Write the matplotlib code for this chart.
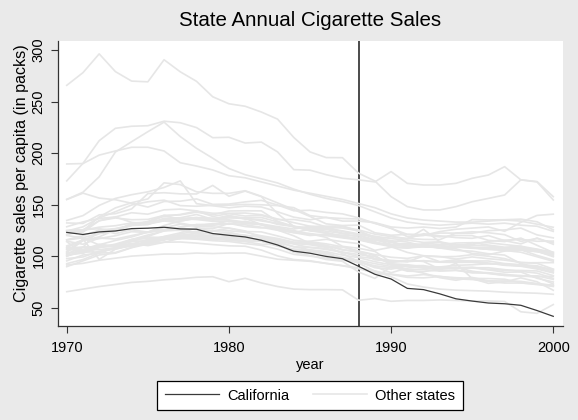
import matplotlib
matplotlib.use("Agg")
import matplotlib.pyplot as plt
from matplotlib.lines import Line2D

plt.rcParams['font.family'] = ['Liberation Sans', 'DejaVu Sans']

years = list(range(1970, 2001))
xticks = [1970, 1980, 1990, 2000]
yticks = [50, 100, 150, 200, 250, 300]
treat_year = 1988

california = [123.0, 121.0, 123.5, 124.4, 126.7, 127.1, 128.0, 126.4, 126.1, 121.9,
              120.2, 118.6, 115.4, 110.8, 104.8, 102.8, 99.7, 97.5, 90.1, 82.4,
              77.8, 68.7, 67.5, 63.4, 58.6, 56.4, 54.5, 53.8, 52.3, 47.2, 41.6]

alabama = [89.8, 95.4, 101.1, 102.9, 108.2, 111.7, 116.2, 117.1, 123.0, 121.4, 123.2, 119.6, 119.1, 116.3, 113.0, 114.5, 116.3, 114.0, 112.1, 105.6, 108.6, 107.9, 109.1, 108.5, 107.1, 102.6, 101.4, 104.9, 106.2, 100.7, 96.2]
arkansas = [100.3, 104.1, 103.9, 108.0, 109.7, 114.8, 119.1, 122.6, 127.3, 126.5, 131.8, 128.7, 127.4, 128.0, 123.1, 125.8, 126.0, 122.3, 121.5, 118.3, 113.1, 116.8, 126.0, 113.8, 108.8, 113.0, 110.7, 108.7, 109.5, 104.8, 99.4]
colorado = [124.8, 125.5, 134.3, 137.9, 132.8, 131.0, 134.2, 132.0, 129.2, 131.5, 131.0, 133.8, 130.5, 125.3, 119.7, 112.4, 109.9, 102.4, 94.6, 88.8, 87.4, 90.2, 88.3, 88.6, 89.1, 85.4, 83.1, 81.3, 81.2, 79.6, 73.0]
connecticut = [120.0, 117.6, 110.8, 109.3, 112.4, 110.2, 113.4, 117.3, 117.5, 117.4, 118.0, 116.4, 114.7, 114.1, 112.5, 111.0, 108.5, 109.0, 104.8, 100.6, 91.5, 86.7, 83.5, 79.1, 76.6, 79.3, 76.0, 75.9, 75.5, 73.4, 71.4]
delaware = [155.0, 161.1, 156.3, 154.7, 151.3, 147.6, 153.0, 153.3, 155.5, 150.2, 150.5, 152.6, 154.1, 149.6, 144.0, 144.5, 142.4, 141.0, 137.1, 131.7, 127.2, 118.8, 120.0, 123.8, 126.1, 127.2, 128.3, 124.1, 132.8, 139.5, 140.7]
georgia = [109.9, 115.7, 117.0, 119.8, 123.7, 122.9, 125.9, 127.9, 130.6, 131.0, 134.0, 131.7, 131.2, 128.6, 126.3, 128.8, 129.0, 129.3, 124.1, 117.1, 113.8, 109.6, 109.0, 108.4, 108.5, 108.4, 108.1, 107.8, 108.1, 106.1, 101.5]
idaho = [102.4, 108.5, 126.1, 121.8, 125.6, 123.3, 125.1, 125.0, 122.8, 117.5, 115.2, 114.1, 111.5, 111.3, 103.6, 100.7, 96.7, 95.0, 84.5, 78.4, 90.1, 85.4, 85.1, 86.7, 93.0, 78.2, 73.6, 75.0, 78.9, 75.1, 66.9]
illinois = [124.8, 125.6, 126.6, 124.4, 131.9, 131.8, 134.4, 134.0, 136.7, 135.3, 135.2, 133.0, 130.7, 127.9, 124.0, 121.6, 118.2, 109.5, 107.6, 104.6, 94.1, 96.1, 94.8, 87.4, 89.2, 88.6, 86.7, 84.4, 84.6, 78.5, 74.9]
indiana = [134.6, 139.3, 149.2, 156.0, 159.6, 162.4, 166.6, 173.0, 150.9, 148.9, 146.9, 148.5, 147.7, 143.0, 137.8, 135.3, 137.6, 134.0, 134.0, 132.5, 128.3, 127.2, 128.2, 126.8, 128.2, 135.4, 135.1, 135.3, 135.9, 133.3, 125.5]
iowa = [108.5, 108.4, 109.4, 110.6, 116.1, 120.5, 124.4, 125.5, 127.1, 124.2, 124.6, 123.2, 119.7, 117.2, 113.6, 113.1, 110.4, 105.9, 104.7, 96.4, 95.2, 94.5, 100.1, 94.6, 96.4, 94.9, 93.3, 91.1, 90.2, 87.5, 83.7]
kansas = [114.0, 102.8, 111.0, 115.2, 118.6, 123.4, 127.7, 130.9, 129.0, 128.3, 127.3, 124.4, 117.8, 113.5, 108.9, 108.6, 107.4, 104.0, 101.5, 99.6, 92.6, 91.7, 89.5, 85.9, 86.4, 83.7, 83.6, 81.4, 80.4, 80.3, 80.4]
kentucky = [173.0, 190.0, 212.0, 224.0, 226.0, 226.5, 230.9, 229.4, 224.7, 214.9, 215.3, 209.7, 210.6, 201.1, 183.9, 183.4, 179.0, 175.5, 174.0, 172.0, 182.0, 170.6, 169.0, 169.0, 170.6, 175.5, 178.7, 186.8, 174.0, 172.3, 157.7]
louisiana = [115.9, 119.8, 125.3, 126.7, 129.9, 133.6, 139.6, 140.0, 142.7, 140.1, 143.8, 144.0, 143.9, 133.7, 128.9, 125.0, 122.4, 119.2, 117.0, 115.8, 113.5, 110.6, 111.9, 113.1, 110.9, 111.2, 114.5, 115.5, 116.2, 114.4, 114.6]
maine = [128.5, 133.2, 136.5, 138.0, 142.1, 140.7, 144.9, 145.6, 143.9, 138.5, 141.2, 138.9, 139.5, 135.4, 135.5, 133.2, 128.3, 127.2, 124.5, 118.4, 114.9, 113.7, 109.7, 107.9, 105.6, 104.8, 102.3, 101.0, 92.7, 88.5, 84.5]
minnesota = [104.3, 116.4, 96.8, 106.8, 110.6, 111.5, 116.7, 117.2, 118.9, 118.3, 117.7, 117.4, 116.1, 112.5, 105.6, 105.3, 101.1, 98.1, 94.7, 89.8, 83.9, 88.4, 89.7, 89.4, 87.9, 88.7, 88.7, 86.9, 85.2, 83.5, 78.4]
mississippi = [92.7, 96.7, 103.0, 103.5, 108.4, 113.5, 115.4, 121.7, 124.1, 124.5, 126.9, 123.9, 123.5, 119.6, 115.4, 113.9, 111.9, 109.0, 104.8, 101.5, 98.9, 97.8, 100.2, 99.4, 99.6, 101.4, 99.9, 97.6, 93.5, 93.6, 93.7]
missouri = [120.6, 125.2, 128.1, 129.5, 132.2, 133.0, 135.0, 136.4, 135.5, 133.8, 133.9, 131.8, 130.5, 126.1, 122.9, 121.9, 119.9, 117.7, 115.7, 112.2, 109.3, 107.8, 110.7, 110.3, 109.2, 110.3, 109.8, 107.6, 107.0, 106.4, 102.2]
montana = [102.4, 105.6, 106.3, 108.1, 110.8, 112.2, 113.5, 113.7, 112.6, 111.2, 110.0, 109.6, 105.9, 100.2, 96.7, 95.5, 92.9, 90.6, 87.8, 83.7, 82.2, 79.4, 78.9, 80.2, 79.1, 78.4, 78.2, 77.6, 74.1, 72.4, 70.6]
nebraska = [95.4, 101.1, 102.9, 108.2, 111.7, 116.2, 117.1, 118.8, 119.8, 120.1, 119.6, 118.3, 115.9, 113.9, 109.3, 106.1, 104.4, 101.0, 98.5, 94.6, 91.6, 90.6, 90.8, 87.5, 88.4, 89.3, 87.1, 86.3, 86.1, 85.6, 81.1]
nevada = [155.0, 162.0, 177.0, 201.0, 211.0, 220.7, 230.0, 216.0, 204.6, 195.0, 185.0, 179.0, 175.0, 171.0, 165.0, 160.0, 156.0, 153.0, 149.0, 143.0, 137.0, 133.0, 131.0, 130.0, 131.0, 132.0, 131.0, 132.0, 130.0, 129.0, 124.0]
new_hampshire = [265.7, 278.0, 296.2, 279.0, 269.8, 269.1, 290.5, 278.8, 269.6, 254.6, 247.8, 245.4, 239.8, 232.9, 215.1, 201.1, 195.6, 195.5, 180.4, 172.9, 157.7, 148.0, 144.8, 144.8, 148.0, 152.8, 156.0, 159.3, 174.0, 172.0, 154.5]
new_mexico = [91.4, 93.0, 96.0, 98.0, 100.0, 101.0, 102.0, 102.0, 103.0, 102.5, 103.0, 103.0, 100.0, 97.0, 96.0, 95.0, 93.0, 90.8, 88.6, 85.7, 80.0, 73.0, 70.0, 68.0, 67.0, 66.5, 66.0, 65.0, 64.5, 64.0, 63.0]
north_carolina = [189.4, 189.8, 198.0, 202.0, 205.6, 205.6, 202.0, 190.6, 187.4, 183.6, 178.0, 176.0, 172.0, 168.0, 164.0, 161.0, 158.0, 155.0, 151.0, 147.0, 141.0, 137.0, 135.0, 134.0, 133.0, 133.0, 134.0, 135.0, 134.0, 131.0, 128.0]
north_dakota = [101.1, 102.9, 108.2, 111.7, 116.2, 117.1, 118.4, 117.0, 116.4, 115.0, 114.2, 112.2, 110.4, 106.8, 101.7, 100.0, 98.2, 96.0, 94.6, 90.6, 88.8, 87.0, 87.0, 85.5, 86.1, 84.6, 83.9, 82.4, 80.7, 80.9, 77.4]
ohio = [115.6, 117.8, 122.1, 126.5, 129.9, 132.7, 135.7, 136.4, 137.4, 135.0, 137.3, 137.1, 134.1, 131.9, 128.8, 127.5, 127.0, 124.1, 120.3, 116.0, 111.4, 111.8, 110.3, 111.1, 112.7, 113.0, 113.0, 111.2, 109.6, 106.8, 103.8]
oklahoma = [108.4, 115.4, 121.7, 124.1, 130.5, 132.9, 138.6, 140.4, 143.6, 141.6, 141.6, 141.8, 140.2, 136.0, 132.5, 129.0, 127.0, 124.5, 121.6, 119.3, 117.0, 115.5, 113.3, 113.9, 110.9, 108.4, 106.7, 106.4, 106.0, 104.4, 100.4]
pennsylvania = [107.3, 106.3, 109.0, 110.7, 114.2, 114.6, 118.8, 120.1, 122.3, 117.4, 118.9, 117.1, 116.0, 115.3, 112.4, 111.9, 110.0, 106.6, 103.3, 97.7, 94.0, 95.4, 95.3, 94.4, 95.0, 95.3, 95.3, 92.8, 91.7, 90.6, 85.8]
rhode_island = [123.9, 123.2, 134.4, 137.0, 135.3, 135.6, 139.5, 135.7, 137.4, 136.2, 138.8, 137.0, 137.5, 133.2, 128.2, 126.2, 124.2, 121.9, 118.4, 114.1, 109.2, 103.6, 100.4, 99.6, 97.2, 99.2, 97.5, 96.1, 94.0, 93.0, 87.4]
south_carolina = [103.6, 115.0, 118.7, 125.5, 129.7, 130.5, 136.8, 137.2, 140.4, 135.7, 139.5, 135.9, 135.4, 130.8, 128.7, 124.4, 122.9, 119.2, 116.7, 112.7, 110.9, 109.1, 110.5, 108.7, 109.4, 108.1, 106.6, 106.3, 105.9, 104.3, 102.6]
south_dakota = [97.6, 99.2, 104.8, 106.9, 110.3, 113.1, 116.8, 119.2, 120.5, 119.9, 121.7, 120.4, 118.2, 115.0, 111.7, 108.3, 106.5, 103.6, 99.5, 97.4, 95.9, 94.7, 95.6, 94.1, 93.9, 94.0, 92.6, 92.1, 91.1, 89.9, 86.6]
tennessee = [99.8, 106.3, 111.5, 109.7, 115.8, 119.1, 124.6, 128.3, 130.5, 129.8, 131.7, 130.4, 128.0, 125.1, 122.8, 120.0, 121.3, 118.5, 116.3, 113.1, 110.8, 112.0, 110.8, 107.8, 109.0, 107.7, 106.7, 105.5, 103.8, 99.4, 95.0]
texas = [106.4, 108.9, 108.6, 110.4, 114.7, 114.1, 118.1, 117.7, 117.4, 116.1, 116.3, 114.9, 114.4, 109.6, 106.9, 105.9, 103.7, 97.6, 93.2, 85.4, 82.5, 80.7, 82.1, 80.4, 78.0, 77.3, 75.5, 73.9, 73.9, 73.0, 71.8]
utah = [65.5, 68.0, 70.5, 72.5, 74.5, 75.5, 77.0, 78.0, 79.5, 80.0, 75.2, 78.5, 74.0, 70.5, 68.0, 67.5, 67.5, 67.3, 57.2, 58.8, 56.2, 57.0, 57.0, 57.5, 57.0, 56.5, 56.5, 56.0, 46.0, 44.5, 53.0]
vermont = [122.6, 124.4, 138.0, 146.8, 151.8, 155.5, 171.1, 169.4, 162.4, 160.9, 160.9, 163.4, 158.0, 151.6, 145.1, 138.5, 131.3, 129.7, 130.1, 122.7, 120.3, 121.0, 120.6, 118.7, 120.1, 119.9, 115.3, 114.1, 117.5, 110.5, 103.5]
virginia = [124.3, 128.4, 137.0, 143.1, 149.6, 152.7, 154.3, 149.0, 148.4, 149.3, 149.4, 150.2, 149.8, 149.0, 147.0, 139.3, 137.4, 136.5, 136.0, 132.1, 126.8, 121.1, 120.8, 122.4, 122.3, 123.6, 122.7, 120.8, 114.3, 117.1, 112.9]
west_virginia = [114.5, 111.5, 117.5, 116.6, 119.9, 123.2, 129.7, 134.0, 136.8, 136.8, 137.3, 136.5, 130.8, 126.1, 124.9, 120.4, 121.1, 120.4, 119.6, 115.8, 119.0, 116.8, 121.7, 119.7, 118.0, 117.3, 119.9, 115.0, 111.9, 117.6, 111.5]
wisconsin = [106.4, 105.4, 108.8, 109.5, 114.5, 118.5, 118.0, 120.4, 120.2, 117.9, 116.5, 114.8, 114.4, 111.6, 104.4, 104.2, 102.6, 98.8, 95.9, 92.7, 90.0, 90.4, 90.0, 89.5, 91.1, 91.6, 92.6, 91.9, 90.4, 89.4, 86.9]
wyoming = [132.2, 131.7, 140.0, 141.2, 145.8, 160.7, 161.5, 160.4, 160.3, 168.6, 158.1, 163.1, 157.7, 141.2, 128.9, 125.9, 126.5, 128.5, 125.4, 121.3, 119.0, 117.0, 116.2, 116.0, 122.4, 122.2, 124.7, 125.4, 127.2, 120.6, 117.7]

other_states = [alabama, arkansas, colorado, connecticut, delaware, georgia, idaho,
                illinois, indiana, iowa, kansas, kentucky, louisiana, maine, minnesota,
                mississippi, missouri, montana, nebraska, nevada, new_hampshire,
                new_mexico, north_carolina, north_dakota, ohio, oklahoma, pennsylvania,
                rhode_island, south_carolina, south_dakota, tennessee, texas, utah,
                vermont, virginia, west_virginia, wisconsin, wyoming]

BG = '#EAEAEA'
LIGHT = '#E6E6E6'
fig = plt.figure(figsize=(5.78, 4.2), dpi=100, facecolor=BG)
ax = fig.add_axes([58/578, 1 - 325.6/420, (563 - 58)/578, (325.6 - 41)/420])
ax.set_facecolor('white')

ax.axvline(treat_year, color='#1a1a1a', lw=1.1, zorder=1)
for s in other_states:
    ax.plot(years, s, color=LIGHT, lw=1.2, zorder=2)
ax.plot(years, california, color='#3a3a3a', lw=0.9, zorder=3)

ax.set_xlim(1969.46, 2000.6)
ax.set_ylim(32.6, 308.7)
ax.set_xticks(xticks)
ax.set_yticks(yticks)
ax.set_xticklabels([str(t) for t in xticks])
ax.set_yticklabels([str(t) for t in yticks], rotation=90, va='center')

for side in ['top', 'right']:
    ax.spines[side].set_visible(False)
for side in ['left', 'bottom']:
    ax.spines[side].set_color('#333333')
    ax.spines[side].set_linewidth(0.9)
ax.tick_params(axis='both', direction='out', length=5, width=0.8, color='#333333',
               labelsize=10.5, labelcolor='black')
ax.tick_params(axis='x', pad=6)
ax.tick_params(axis='y', pad=4)

ax.set_xlabel('year', fontsize=10.5)
ax.xaxis.set_label_coords(0.5, -(364.5 - 325.6) / (325.6 - 41), transform=ax.transAxes)
ax.xaxis.label.set_va('center')
ax.set_ylabel('Cigarette sales per capita (in packs)', fontsize=11.6)
ax.yaxis.set_label_coords(-(58 - 22) / (563 - 58), (325.6 - 173) / (325.6 - 41),
                          transform=ax.transAxes)
ax.yaxis.label.set_va('center')
fig.text(310/578, 1 - 20/420, 'State Annual Cigarette Sales', ha='center', va='center',
         fontsize=14.8)

handles = [Line2D([], [], color='#3a3a3a', lw=0.9),
           Line2D([], [], color=LIGHT, lw=1.2)]
leg = fig.legend(handles, ['California', 'Other states'], loc='center',
                 bbox_to_anchor=(310/578, 1 - 395.5/420), ncol=2, fontsize=10.5,
                 frameon=True, fancybox=False, edgecolor='black', facecolor='white',
                 handlelength=3.7, handletextpad=0.6, columnspacing=1.6,
                 borderpad=0.5, borderaxespad=0, framealpha=1)
leg.get_frame().set_linewidth(0.9)

fig.savefig('out.png', dpi=100, facecolor=BG)
